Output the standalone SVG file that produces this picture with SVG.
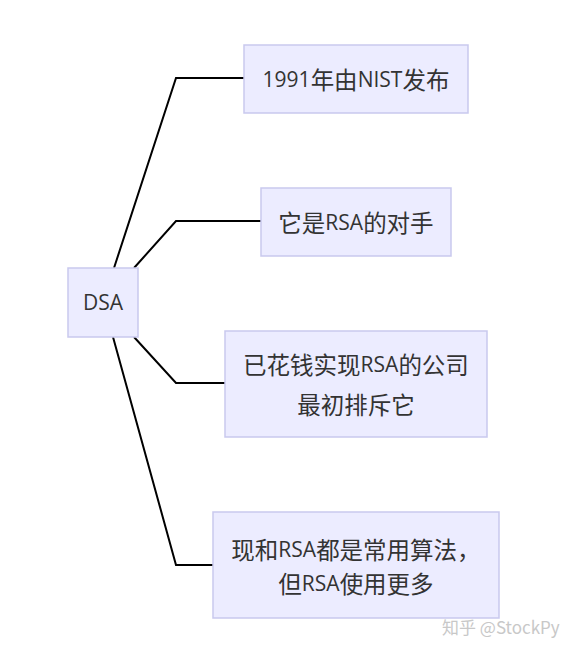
<svg xmlns="http://www.w3.org/2000/svg" width="576" height="654" viewBox="0 0 576 654">
<style>
.node rect{fill:#ECECFF;stroke:#C9C9EE;stroke-width:1.5}
.node text{font-family:"Open Sans","Noto Sans CJK SC",sans-serif;font-size:21px;fill:#333;text-anchor:middle;dominant-baseline:central}
.c{font-family:"Noto Sans CJK SC",sans-serif;font-size:23.5px}
.edge{fill:none;stroke:#000;stroke-width:2}
.wm{font-family:"Noto Sans CJK SC",sans-serif;font-size:17px;fill:#c8c8c8}
</style>
<rect width="576" height="654" fill="#fff"/>
<g id="connectors">
<path class="edge" d="M114,268 L176,78 L244,78"/>
<path class="edge" d="M134,268 L176,221 L261,221"/>
<path class="edge" d="M134,337 L176,383 L225,383"/>
<path class="edge" d="M113,337 L176,565 L213,565"/>
</g>
<g id="dsa" class="node"><rect x="68" y="268" width="70" height="69"/><text x="103" y="302">DSA</text></g>
<g id="n1" class="node"><rect x="244" y="45" width="224" height="68"/><text x="356" y="79">1991<tspan class="c">年由</tspan>NIST<tspan class="c">发布</tspan></text></g>
<g id="n2" class="node"><rect x="261" y="188" width="190" height="68"/><text x="356" y="222"><tspan class="c">它是</tspan>RSA<tspan class="c">的对手</tspan></text></g>
<g id="n3" class="node"><rect x="225" y="331" width="262" height="106"/><text x="356" y="364"><tspan class="c">已花钱实现</tspan>RSA<tspan class="c">的公司</tspan></text><text x="356" y="404"><tspan class="c">最初排斥它</tspan></text></g>
<g id="n4" class="node"><rect x="213" y="512" width="286" height="106"/><text x="356" y="549"><tspan class="c">现和</tspan>RSA<tspan class="c">都是常用算法，</tspan></text><text x="356" y="583"><tspan class="c">但</tspan>RSA<tspan class="c">使用更多</tspan></text></g>
<text class="wm" x="442" y="634">知乎 @StockPy</text>
</svg>
